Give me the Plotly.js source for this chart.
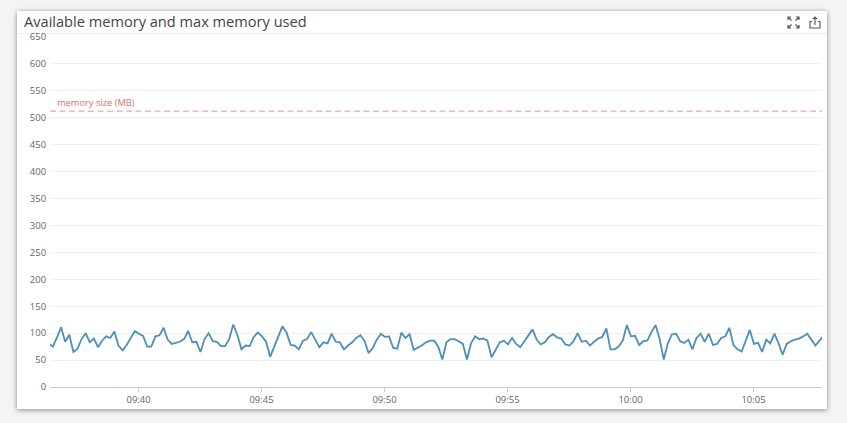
<!DOCTYPE html>
<html><head><meta charset="utf-8">
<script src="https://cdn.plot.ly/plotly-3.0.1.min.js"></script>
<style>
html,body{margin:0;padding:0;width:847px;height:423px;overflow:hidden;background:#f4f4f4}
#card{position:absolute;left:17px;top:11px;width:810px;height:398px;background:#fff;box-shadow:0 1px 5px rgba(0,0,0,.45)}
#rule{position:absolute;left:17px;top:33px;width:810px;height:1px;background:#eeeeee}
#chart{position:absolute;left:0;top:0;width:847px;height:423px}
svg.ic{position:absolute;top:16px}
</style></head><body>
<div id="card"></div><div id="rule"></div>
<div id="chart"></div>
<svg class="ic" style="left:787px" width="13" height="13" viewBox="0 0 13 13" fill="none" stroke="#555" stroke-width="1.2"><path d="M1 4V1H4M1 1L4.5 4.5M9 1H12V4M12 1L8.5 4.5M1 9V12H4M1 12L4.5 8.5M9 12H12V9M12 12L8.5 8.5"/></svg>
<svg class="ic" style="left:809px" width="12" height="13" viewBox="0 0 12 13" fill="none" stroke="#555" stroke-width="1.1"><path d="M3 5.5H1V12H11V5.5H9M6 9V1M3.8 3.2L6 1L8.2 3.2"/></svg>
<script>
const chartTitle = "Available memory and max memory used";
const lineLabel = "memory size (MB)";
const memoryLimit = 512;
const startTime = "2019-01-01 09:36:24";
const endTime = "2019-01-01 10:07:47";
const stepSeconds = 10;
const maxMemoryPart1 = [81,75,92,111,84,97,65,71,89,100,83,90,74,86,94,91,103,77,68,78,91,104,99,95,75,75,94,96,110,88,80,82,84,89,104,83,84,65,89,100,85,84,76,76,89,116,97,70,77,76,93,101,94,84,56,75,95,113,101,78,77,70];
const maxMemoryPart2 = [86,89,102,88,74,83,81,99,84,83,70,77,83,91,96,86,63,72,88,99,93,94,73,71,101,91,98,69,73,77,83,86,86,75,51,83,89,89,85,80,51,81,94,89,90,86,55,70,83,86,79,91,80,74,85,95,107,88,79,83,93,98,92,90,79,77];
const maxMemoryPart3 = [85,100,84,86,77,84,90,93,109,70,70,75,86,115,94,95,78,85,86,102,115,89,51,81,98,99,85,82,88,70,91,99,84,99,78,80,91,94,110,78,70,66,85,106,80,82,65,88,81,99,81,60,80,85,88,90,94,99,88,77,86,96];
const maxMemory = maxMemoryPart1.concat(maxMemoryPart2, maxMemoryPart3);
const times = maxMemory.map((_, i) => {
  const d = new Date(Date.UTC(2019,0,1,9,36,21) + i*stepSeconds*1000);
  return d.toISOString().slice(0,19).replace('T',' ');
});
const yTicks = [0,50,100,150,200,250,300,350,400,450,500,550,600,650];
const xTicks = ["2019-01-01 09:40","2019-01-01 09:45","2019-01-01 09:50","2019-01-01 09:55","2019-01-01 10:00","2019-01-01 10:05"];
const xLabels = ["09:40","09:45","09:50","09:55","10:00","10:05"];

Plotly.newPlot('chart',[
 {x:times,y:maxMemory,mode:'lines',line:{color:'#4a90b9',width:1.8},hoverinfo:'skip',showlegend:false},
 {x:[startTime,endTime],y:[memoryLimit,memoryLimit],mode:'lines',line:{color:'#eeb9b7',width:1.5,dash:'6px,3.5px'},hoverinfo:'skip',showlegend:false}
],{
 width:847,height:423,
 margin:{l:50,r:25,t:37,b:36},
 paper_bgcolor:'rgba(0,0,0,0)',plot_bgcolor:'rgba(0,0,0,0)',
 font:{family:'"Open Sans",sans-serif',size:9.5,color:'#666'},
 title:{text:chartTitle,font:{family:'"Open Sans",sans-serif',size:14.6,color:'#444444'},x:24/847,xanchor:'left',y:1-22/423,yanchor:'middle'},
 xaxis:{type:'date',range:[startTime,endTime],tickmode:'array',tickvals:xTicks,ticktext:xLabels,showgrid:false,zeroline:false,
   showline:true,linecolor:'#cccccc',linewidth:1,ticks:'outside',ticklen:4,tickcolor:'#cccccc',tickfont:{size:9.5,color:'#666'}},
 yaxis:{range:[0,650],tickmode:'array',tickvals:yTicks,showgrid:true,gridcolor:'#eeeeee',gridwidth:1,zeroline:false,showline:false,ticks:'outside',ticklen:1,tickcolor:'rgba(0,0,0,0)',tickfont:{size:9.5,color:'#666'}},
 annotations:[{x:0.006,xref:'paper',y:memoryLimit,yref:'y',yshift:9,xanchor:'left',yanchor:'middle',text:lineLabel,showarrow:false,font:{size:9.3,color:'#d9706e'}}]
},{staticPlot:true,displayModeBar:false});
</script>
</body></html>
